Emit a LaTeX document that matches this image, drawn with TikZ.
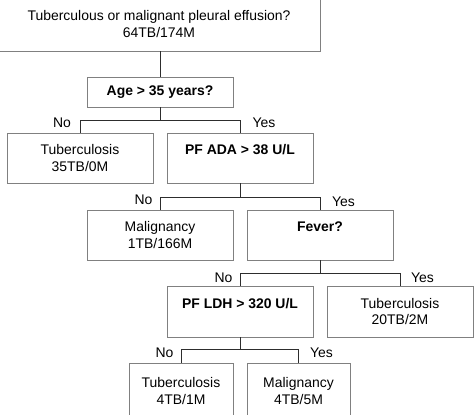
\documentclass[tikz,border=0pt]{standalone}
\usepackage{fontspec}
\setmainfont{Liberation Sans}
\begin{document}
\begin{tikzpicture}[x=1bp,y=-1bp,
  box/.style={draw=boxgray,line width=0.9bp,fill=white,inner sep=0pt,align=center,
    font=\fontsize{14}{17}\selectfont,minimum width=146bp,minimum height=50bp},
  lbl/.style={font=\fontsize{14}{17}\selectfont,inner sep=0pt},
  conn/.style={draw=linegray,line width=0.9bp}]
\definecolor{boxgray}{RGB}{128,128,128}
\definecolor{linegray}{RGB}{45,45,45}
\useasboundingbox (0,0) rectangle (474,414);
\clip (0,0) rectangle (474,414);
% boxes
\node[box,minimum width=322bp,minimum height=54bp] (top) at (159,24)
  {Tuberculous or malignant pleural effusion?\\64TB/174M};
\node[box,minimum height=30bp,font=\fontsize{14}{17}\selectfont\bfseries] (age) at (160,92) {Age > 35 years?};
\node[box] (tb1) at (80,158) {Tuberculosis\\35TB/0M};
\node[box,font=\fontsize{14}{17}\selectfont\bfseries] (ada) at (240,158) {PF ADA > 38 U/L\\\mbox{}};
\node[box] (mal1) at (160,235) {Malignancy\\1TB/166M};
\node[box,font=\fontsize{14}{17}\selectfont\bfseries] (fever) at (320,235) {Fever?\\\mbox{}};
\node[box,minimum height=51bp,font=\fontsize{14}{17}\selectfont\bfseries] (ldh) at (240,311.5) {PF LDH > 320 U/L\\\mbox{}};
\node[box,minimum height=51bp] (tb2) at (400,311.5) {Tuberculosis\\20TB/2M};
\node[box,minimum width=104bp,minimum height=56bp] (tb3) at (181,391) {Tuberculosis\\4TB/1M};
\node[box,minimum width=103bp,minimum height=56bp] (mal3) at (298.5,391) {Malignancy\\4TB/5M};
% junctions
\coordinate (j1) at (160,120);
\coordinate (j2) at (240,197);
\coordinate (j3) at (320,273);
\coordinate (j4) at (240,349);
% connectors
\draw[conn] (top.south -| age.north) -- (age.north);
\draw[conn] (age.south) -- (j1);
\draw[conn] (tb1.north) |- (j1);
\draw[conn] (ada.north) |- (j1);
\draw[conn] (ada.south) -- (j2);
\draw[conn] (mal1.north) |- (j2);
\draw[conn] (fever.north) |- (j2);
\draw[conn] (fever.south) -- (j3);
\draw[conn] (ldh.north) |- (j3);
\draw[conn] (tb2.north) |- (j3);
\draw[conn] (ldh.south) -- (j4);
\draw[conn] (tb3.north) |- (j4);
\draw[conn] (mal3.north) |- (j4);
% labels
\node[lbl] (no1) at (62,122.5) {No};
\node[lbl] (yes1) at (264,122.5) {Yes};
\node[lbl] (no2) at (143.5,199.5) {No};
\node[lbl] (yes2) at (343.5,201.5) {Yes};
\node[lbl] (no3) at (223.5,277.5) {No};
\node[lbl] (yes3) at (422.5,277.5) {Yes};
\node[lbl] (no4) at (164.5,353) {No};
\node[lbl] (yes4) at (321.5,353) {Yes};
\end{tikzpicture}
\end{document}
